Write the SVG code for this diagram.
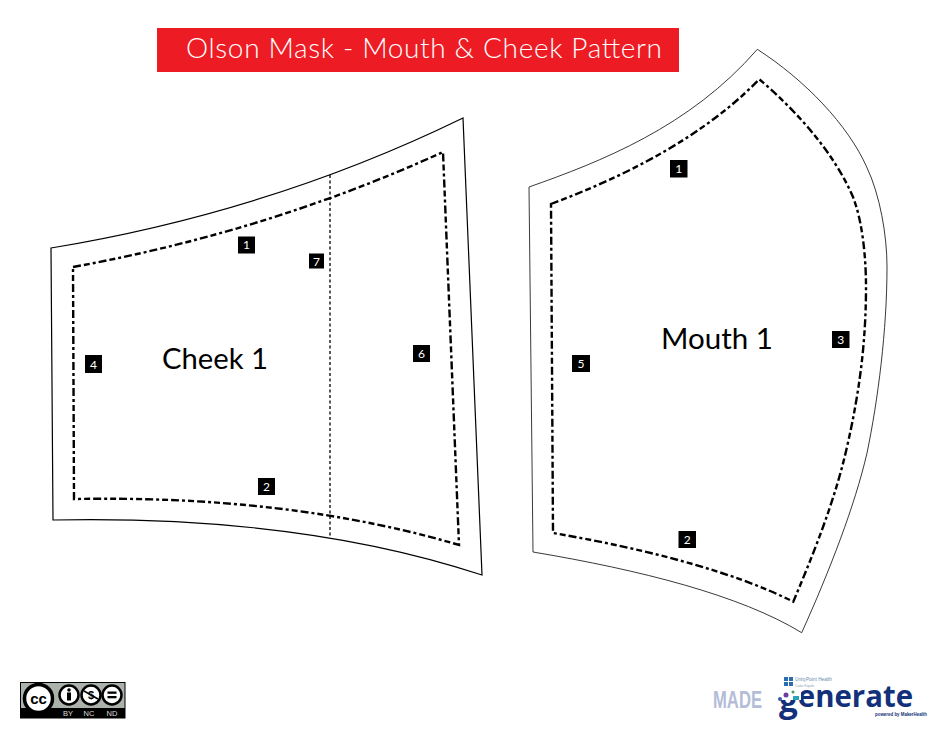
<svg xmlns="http://www.w3.org/2000/svg" width="950" height="735" viewBox="0 0 950 735">
<style>
.cut{fill:none;stroke:#000;stroke-width:1.2}
.cut2{fill:none;stroke:#222;stroke-width:.9}
.sew{fill:none;stroke:#000;stroke-width:2.4;stroke-dasharray:8 3 6 3 3 3}
.fold{fill:none;stroke:#000;stroke-width:1.3;stroke-dasharray:3 2.5}
.tag rect{fill:#000}
.tag text{fill:#fff;font:12px Lato,"Liberation Sans",sans-serif;text-anchor:middle}
.big{font-family:Lato,"Liberation Sans",sans-serif;font-size:29px;fill:#000}
</style>
<rect width="950" height="735" fill="#fff"/>
<g id="title"><rect x="157" y="28" width="522" height="44" fill="#ed1c24"/>
<text x="186" y="58" font-family="Lato,'Liberation Sans',sans-serif" font-weight="300" font-size="28" fill="#fff" textLength="476" lengthAdjust="spacing">Olson Mask - Mouth &amp; Cheek Pattern</text></g>
<g id="connectors">
<path class="fold" d="M330 175V537"/>
</g>
<g id="cheek">
<path class="cut" d="M51 248Q270 212 463 118L482 575Q300 515 53 520Z"/>
<path class="sew" d="M73 267Q270 231 443 152L459 545Q290 495 74 499Z"/>
<text class="big" x="162" y="369" textLength="106" lengthAdjust="spacingAndGlyphs">Cheek 1</text>
</g>
<g id="mouth">
<path class="cut2" d="M529 187C600 162 690 127 757.300 49.300C805 80 848 125 866.700 167C880 195 887 235 887 267C887 330 878 400 867 453C855 505 830 570 801.700 632.700C740 595 640 570 533 552Z"/>
<path class="sew" d="M551 204C620 178 700 140 759.300 79.300C800 114 835 155 853 197C862 220 866 255 866 287C866 340 860 390 847 447C835 500 815 550 793.300 601.700C730 570 640 548 553 533Z"/>
<text class="big" x="661" y="349" textLength="112" lengthAdjust="spacingAndGlyphs">Mouth 1</text>
</g>
<g id="tag-c1" class="tag"><rect x="238" y="236.500" width="17" height="17"/><text x="246.500" y="249">1</text></g>
<g id="tag-c7" class="tag"><rect x="309" y="253.500" width="15" height="15"/><text x="316.500" y="265.500">7</text></g>
<g id="tag-c4" class="tag"><rect x="85" y="355" width="17" height="18"/><text x="93.500" y="368.500">4</text></g>
<g id="tag-c6" class="tag"><rect x="413" y="345" width="17" height="17"/><text x="421.500" y="357.500">6</text></g>
<g id="tag-c2" class="tag"><rect x="258" y="478" width="17" height="17"/><text x="266.500" y="490.500">2</text></g>
<g id="tag-m1" class="tag"><rect x="670" y="160" width="17.500" height="17.500"/><text x="678.800" y="173">1</text></g>
<g id="tag-m3" class="tag"><rect x="832" y="331" width="17.500" height="17"/><text x="840.700" y="344">3</text></g>
<g id="tag-m5" class="tag"><rect x="572" y="355" width="18" height="17"/><text x="581" y="368">5</text></g>
<g id="tag-m2" class="tag"><rect x="678.500" y="531" width="17.500" height="17"/><text x="687.200" y="544">2</text></g>
<g id="cc-logo">
<rect x="20" y="682" width="105.500" height="36.500" fill="#000"/>
<rect x="21" y="683" width="103.500" height="25" fill="#aab2ab"/>
<circle cx="38.500" cy="698.500" r="14" fill="#fff" stroke="#000" stroke-width="3.500"/>
<text x="38.500" y="703.500" font-family="'Liberation Sans',sans-serif" font-weight="700" font-size="15" text-anchor="middle">cc</text>
<g fill="#fff" stroke="#000" stroke-width="2.500"><circle cx="69" cy="695" r="9.500"/><circle cx="91" cy="695" r="9.500"/><circle cx="112" cy="695" r="9.500"/></g>
<circle cx="69" cy="690" r="1.800"/><rect x="67" y="692.500" width="4" height="8"/>
<path d="M84 691L98 699" stroke="#000" stroke-width="1.500"/><text x="91" y="699" font-family="'Liberation Sans',sans-serif" font-weight="700" font-size="11" text-anchor="middle">$</text>
<rect x="107.500" y="691.500" width="9" height="2.300"/><rect x="107.500" y="696" width="9" height="2.300"/>
<g font-family="'Liberation Sans',sans-serif" font-size="7.500" fill="#ddd" text-anchor="middle"><text x="68" y="716">BY</text><text x="89" y="716">NC</text><text x="112" y="716">ND</text></g>
</g>
<g id="generate-logo">
<text x="713" y="707.500" font-family="'Liberation Sans',sans-serif" font-weight="700" font-size="23" fill="#b3bdd8" textLength="49" lengthAdjust="spacingAndGlyphs">MADE</text>
<g fill="#2b6cb0"><rect x="784" y="677" width="4" height="4"/><rect x="789" y="677" width="4" height="4"/><rect x="784" y="682" width="4" height="4"/><rect x="789" y="682" width="4" height="4"/></g>
<text x="795" y="680.500" font-family="'Liberation Sans',sans-serif" font-size="5" fill="#6a8cb0" textLength="37" lengthAdjust="spacingAndGlyphs">UnityPoint Health</text>
<text x="795" y="686.500" font-family="'Liberation Sans',sans-serif" font-size="4" fill="#8aa0b8" textLength="19" lengthAdjust="spacingAndGlyphs">Cedar Rapids</text>
<text x="779" y="707" font-family="'Open Sans','Liberation Sans',sans-serif" font-weight="700" font-size="30" fill="#13307a" textLength="134" lengthAdjust="spacingAndGlyphs"><tspan dy="5" font-size="34">g</tspan><tspan dy="-5">enerate</tspan></text>
<rect x="780" y="690" width="21" height="10" fill="#fff"/>
<circle cx="786" cy="695" r="2.500" fill="#6b3fa0"/><circle cx="780" cy="699" r="2" fill="#3b5ba5"/><circle cx="793" cy="692" r="1.500" fill="#3aa655"/><rect x="793" y="696" width="6" height="4" fill="#2aa5b8"/>
<text x="875" y="715.500" font-family="'Liberation Sans',sans-serif" font-weight="700" font-size="4.500" fill="#13307a" textLength="52" lengthAdjust="spacingAndGlyphs">powered by MakerHealth</text>
</g>
</svg>
